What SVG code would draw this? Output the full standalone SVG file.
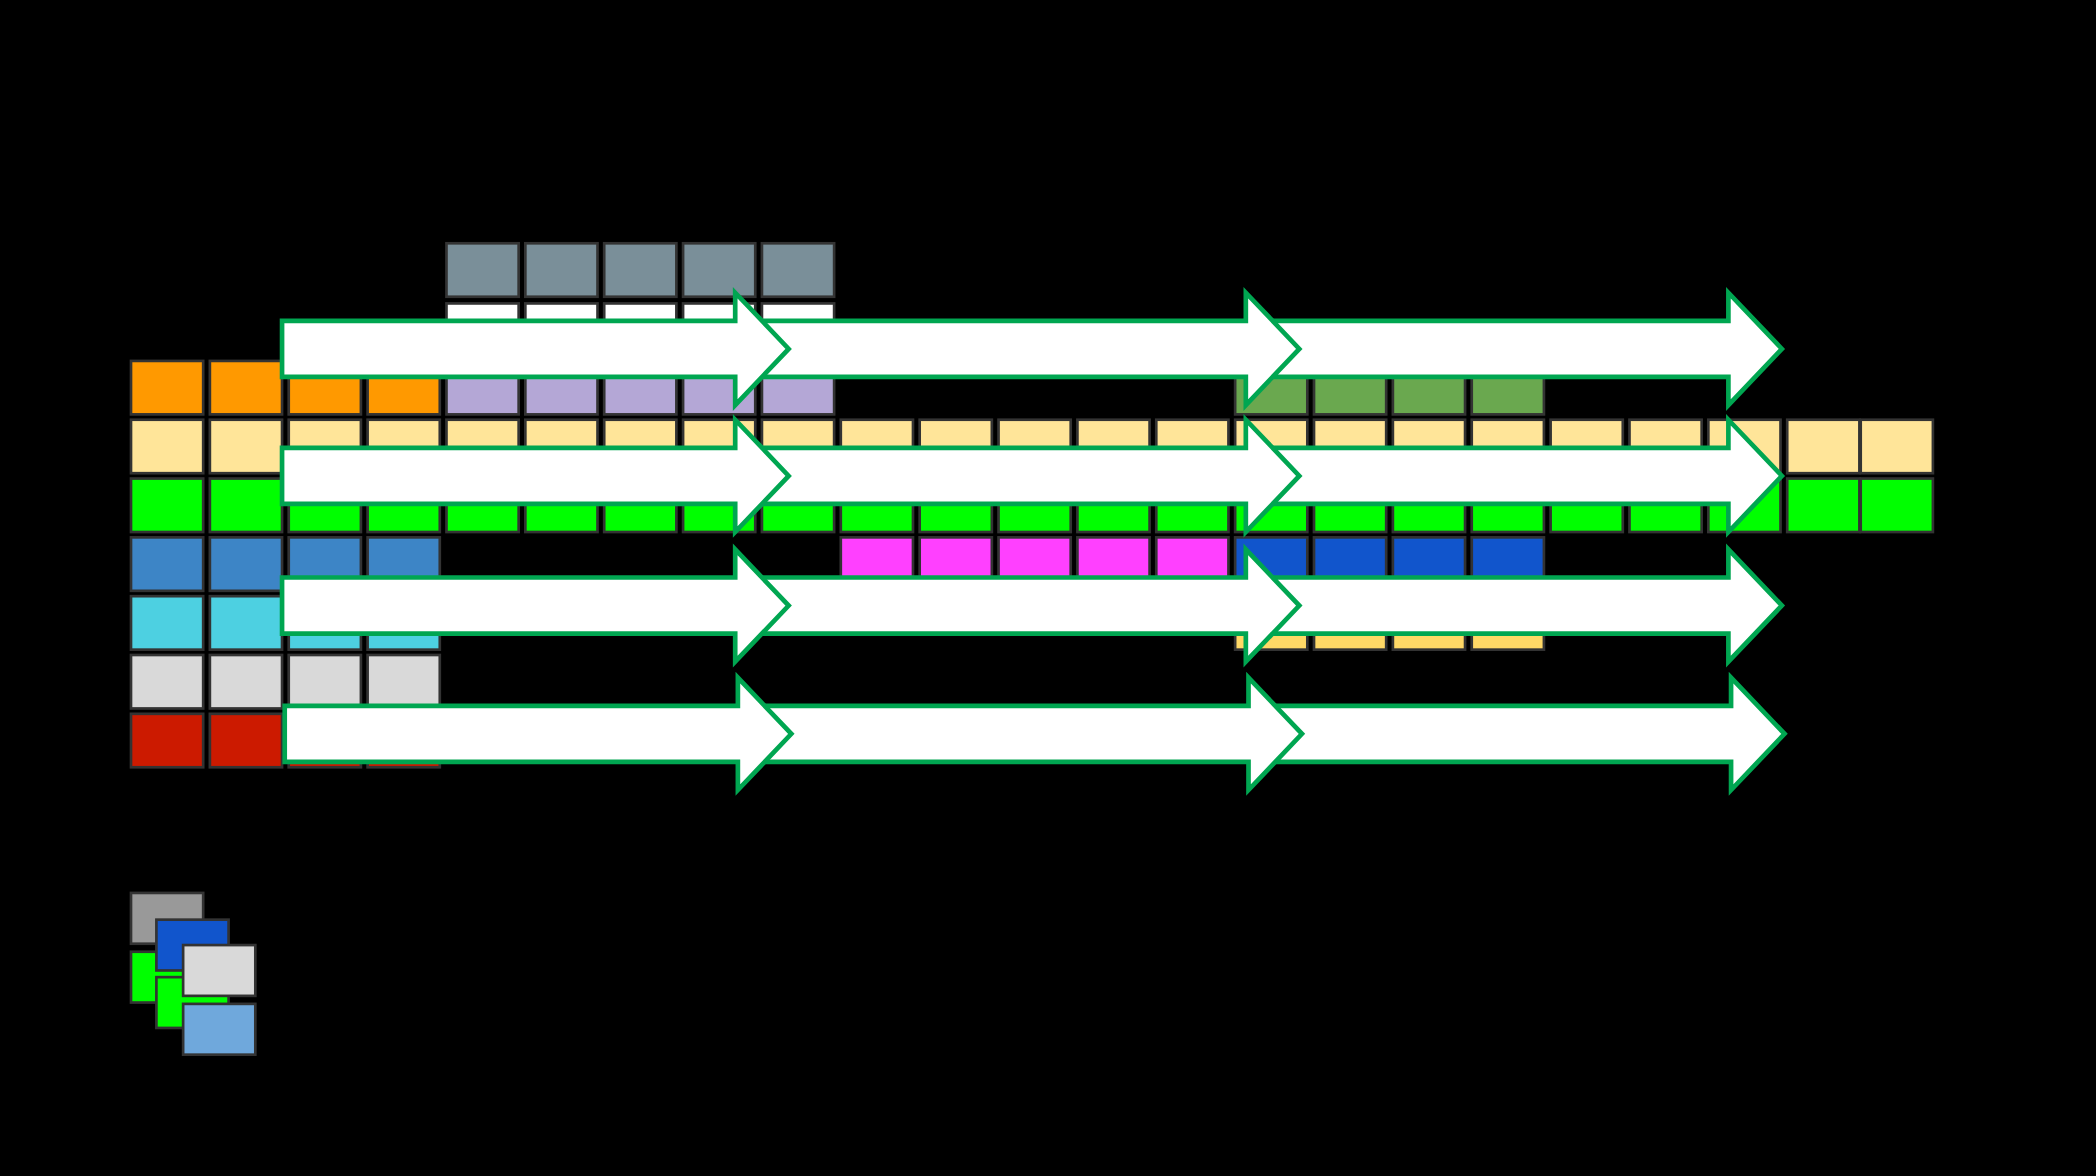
<svg xmlns="http://www.w3.org/2000/svg" width="2096" height="1176" viewBox="0 0 2096 1176">
<defs>
<style>
.c{stroke:#333;stroke-width:2}
.a{fill:#fff;stroke:#00a651;stroke-width:3.5;stroke-linejoin:miter}
</style>
<path id="ar" class="a" d="M0,-21 H339 V-42 L379,0 L339,42 V21 H0 Z"/>
<path id="ar2" class="a" d="M0,-21 H362 V-42 L402,0 L362,42 V21 H0 Z"/>
</defs>
<rect width="2096" height="1176" fill="#000"/>
<g transform="scale(1.33673)">
<g id="cells">
<g id="grey" fill="#7a8f99" class="c"><rect x="334" y="182" width="54" height="40"/><rect x="393" y="182" width="54" height="40"/><rect x="452" y="182" width="54" height="40"/><rect x="511" y="182" width="54" height="40"/><rect x="570" y="182" width="54" height="40"/></g>
<g id="white" fill="#fff" class="c"><rect x="334" y="227" width="54" height="40"/><rect x="393" y="227" width="54" height="40"/><rect x="452" y="227" width="54" height="40"/><rect x="511" y="227" width="54" height="40"/><rect x="570" y="227" width="54" height="40"/></g>
<g id="orange" fill="#ff9900" class="c"><rect x="98" y="270" width="54" height="40"/><rect x="157" y="270" width="54" height="40"/><rect x="216" y="270" width="54" height="40"/><rect x="275" y="270" width="54" height="40"/></g>
<g id="lavender" fill="#b4a7d6" class="c"><rect x="334" y="270" width="54" height="40"/><rect x="393" y="270" width="54" height="40"/><rect x="452" y="270" width="54" height="40"/><rect x="511" y="270" width="54" height="40"/><rect x="570" y="270" width="54" height="40"/></g>
<g id="olive" fill="#6aa84f" class="c"><rect x="924" y="270" width="54" height="40"/><rect x="983" y="270" width="54" height="40"/><rect x="1042" y="270" width="54" height="40"/><rect x="1101" y="270" width="54" height="40"/></g>
<g id="yellowrow" fill="#ffe599" class="c">
<rect x="98" y="314" width="54" height="40"/><rect x="157" y="314" width="54" height="40"/><rect x="216" y="314" width="54" height="40"/><rect x="275" y="314" width="54" height="40"/><rect x="334" y="314" width="54" height="40"/><rect x="393" y="314" width="54" height="40"/><rect x="452" y="314" width="54" height="40"/><rect x="511" y="314" width="54" height="40"/><rect x="570" y="314" width="54" height="40"/><rect x="629" y="314" width="54" height="40"/><rect x="688" y="314" width="54" height="40"/><rect x="747" y="314" width="54" height="40"/><rect x="806" y="314" width="54" height="40"/><rect x="865" y="314" width="54" height="40"/><rect x="924" y="314" width="54" height="40"/><rect x="983" y="314" width="54" height="40"/><rect x="1042" y="314" width="54" height="40"/><rect x="1101" y="314" width="54" height="40"/><rect x="1160" y="314" width="54" height="40"/><rect x="1219" y="314" width="54" height="40"/><rect x="1278" y="314" width="54" height="40"/><rect x="1337" y="314" width="54" height="40"/><rect x="1392" y="314" width="54" height="40"/></g>
<g id="greenrow" fill="#00ff00" class="c">
<rect x="98" y="358" width="54" height="40"/><rect x="157" y="358" width="54" height="40"/><rect x="216" y="358" width="54" height="40"/><rect x="275" y="358" width="54" height="40"/><rect x="334" y="358" width="54" height="40"/><rect x="393" y="358" width="54" height="40"/><rect x="452" y="358" width="54" height="40"/><rect x="511" y="358" width="54" height="40"/><rect x="570" y="358" width="54" height="40"/><rect x="629" y="358" width="54" height="40"/><rect x="688" y="358" width="54" height="40"/><rect x="747" y="358" width="54" height="40"/><rect x="806" y="358" width="54" height="40"/><rect x="865" y="358" width="54" height="40"/><rect x="924" y="358" width="54" height="40"/><rect x="983" y="358" width="54" height="40"/><rect x="1042" y="358" width="54" height="40"/><rect x="1101" y="358" width="54" height="40"/><rect x="1160" y="358" width="54" height="40"/><rect x="1219" y="358" width="54" height="40"/><rect x="1278" y="358" width="54" height="40"/><rect x="1337" y="358" width="54" height="40"/><rect x="1392" y="358" width="54" height="40"/></g>
<g id="blue" fill="#3d85c6" class="c"><rect x="98" y="402" width="54" height="40"/><rect x="157" y="402" width="54" height="40"/><rect x="216" y="402" width="54" height="40"/><rect x="275" y="402" width="54" height="40"/></g>
<g id="magenta" fill="#ff40ff" class="c"><rect x="629" y="402" width="54" height="40"/><rect x="688" y="402" width="54" height="40"/><rect x="747" y="402" width="54" height="40"/><rect x="806" y="402" width="54" height="40"/><rect x="865" y="402" width="54" height="40"/></g>
<g id="darkblue" fill="#1155cc" class="c"><rect x="924" y="402" width="54" height="40"/><rect x="983" y="402" width="54" height="40"/><rect x="1042" y="402" width="54" height="40"/><rect x="1101" y="402" width="54" height="40"/></g>
<g id="cyan" fill="#4dd0e1" class="c"><rect x="98" y="446" width="54" height="40"/><rect x="157" y="446" width="54" height="40"/><rect x="216" y="446" width="54" height="40"/><rect x="275" y="446" width="54" height="40"/></g>
<g id="gold" fill="#ffd966" class="c"><rect x="924" y="446" width="54" height="40"/><rect x="983" y="446" width="54" height="40"/><rect x="1042" y="446" width="54" height="40"/><rect x="1101" y="446" width="54" height="40"/></g>
<g id="lightgray" fill="#d9d9d9" class="c"><rect x="98" y="490" width="54" height="40"/><rect x="157" y="490" width="54" height="40"/><rect x="216" y="490" width="54" height="40"/><rect x="275" y="490" width="54" height="40"/></g>
<g id="red" fill="#cc1a00" class="c"><rect x="98" y="534" width="54" height="40"/><rect x="157" y="534" width="54" height="40"/><rect x="216" y="534" width="54" height="40"/><rect x="275" y="534" width="54" height="40"/></g>
</g>
<g id="connectors">
<g transform="translate(0,261)"><use href="#ar" x="954"/><use href="#ar2" x="570"/><use href="#ar" x="211"/></g>
<g transform="translate(0,356)"><use href="#ar" x="954"/><use href="#ar2" x="570"/><use href="#ar" x="211"/></g>
<g transform="translate(0,453)"><use href="#ar" x="954"/><use href="#ar2" x="570"/><use href="#ar" x="211"/></g>
<g transform="translate(0,549)"><use href="#ar" x="956"/><use href="#ar2" x="572"/><use href="#ar" x="213"/></g>
</g>
<g id="legend" class="c">
<rect x="98" y="668" width="54" height="38" fill="#999"/>
<rect x="98" y="712" width="54" height="38" fill="#00ff00"/>
<rect x="117" y="688" width="54" height="38" fill="#1155cc"/>
<rect x="117" y="731" width="54" height="38" fill="#00ff00"/>
<rect x="137" y="707" width="54" height="38" fill="#d9d9d9"/>
<rect x="137" y="751" width="54" height="38" fill="#6fa8dc"/>
</g>
</g>
</svg>
